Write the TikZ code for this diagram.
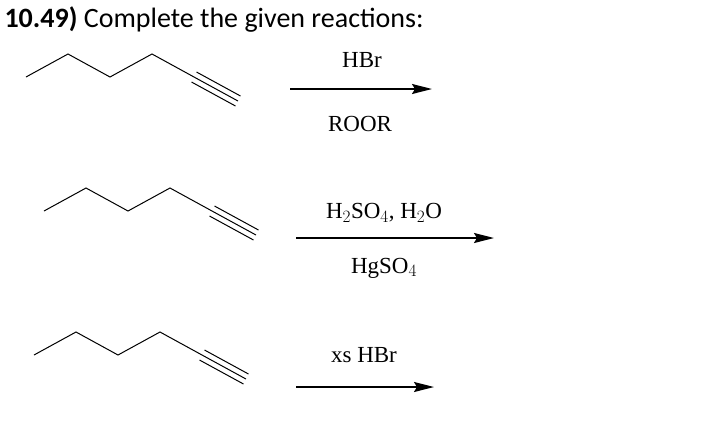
\documentclass[tikz,border=0pt]{standalone}
\usepackage{fontspec}
\setmainfont{Liberation Serif}
\newfontfamily\calib{Carlito}
\usetikzlibrary{arrows.meta}
\begin{document}
\begin{tikzpicture}[x=1pt,y=-1pt,line width=1.1pt,
  rxn/.style={-{Stealth[length=20pt,width=10pt,inset=3pt]},line width=1.8pt},
  lbl/.style={font=\fontsize{23}{26}\selectfont,inner sep=0pt}]
\useasboundingbox (0,0) rectangle (706,440);
\node[anchor=west,inner sep=0pt,font=\calib\fontsize{28}{32}\selectfont] (title) at (4,20) {\textbf{10.49)} Complete the given reactions:};
\foreach \dx/\dy/\n in {0/0/a,18/134/b,8/278/c}{
  \begin{scope}[shift={(\dx,\dy)}]
  \coordinate (\n1) at (26,77); \coordinate (\n2) at (68,54);
  \coordinate (\n3) at (110,77); \coordinate (\n4) at (152,54);
  \coordinate (\n5) at (194,77); \coordinate (\n6) at (238,101);
  \draw[line width=1pt] (\n1)--(\n2)--(\n3)--(\n4)--(\n5)--(\n6);
  \draw[line width=1pt] ([shift={(2.5,-5)}]\n5)--([shift={(2.5,-5)}]\n6);
  \draw[line width=1pt] ([shift={(-2.5,5)}]\n5)--([shift={(-2.5,5)}]\n6);
  \end{scope}}
\coordinate (a7) at (290,89); \coordinate (a8) at (432,89);
\coordinate (b7) at (296,238); \coordinate (b8) at (494,238);
\coordinate (c7) at (296,387); \coordinate (c8) at (434,387);
\draw[rxn] (a7)--(a8); \draw[rxn] (b7)--(b8); \draw[rxn] (c7)--(c8);
\node[lbl] (t1) at (362,60) {HBr};
\node[lbl] (t2) at (360,124) {ROOR};
\node[lbl] (t3) at (384,213) {H$_2$SO$_4$, H$_2$O};
\node[lbl] (t4) at (384,268) {HgSO$_4$};
\node[lbl] (t5) at (364,355) {xs HBr};
\end{tikzpicture}
\end{document}
